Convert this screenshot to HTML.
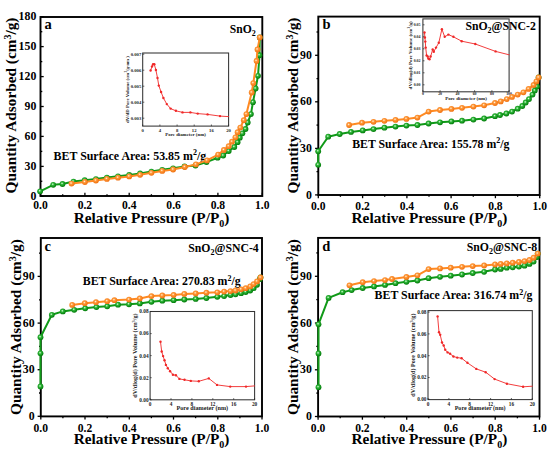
<!DOCTYPE html><html><head><meta charset="utf-8"><style>html,body{margin:0;padding:0;background:#fff;}svg{display:block;}svg text{font-family:"Liberation Serif",serif;font-weight:bold;}</style></head><body><svg width="550" height="453" viewBox="0 0 550 453" font-weight="bold"><defs><radialGradient id="gg" cx="0.42" cy="0.4" r="0.6"><stop offset="0" stop-color="#e8ffe8"/><stop offset="0.35" stop-color="#30b83a"/><stop offset="1" stop-color="#007a08"/></radialGradient><radialGradient id="go" cx="0.42" cy="0.4" r="0.6"><stop offset="0" stop-color="#fff4e6"/><stop offset="0.35" stop-color="#ff9a3a"/><stop offset="1" stop-color="#f07010"/></radialGradient></defs><rect width="550" height="453" fill="#fff"/><rect x="40.5" y="17.0" width="221.8" height="179.0" fill="none" stroke="#000" stroke-width="1.9"/><line x1="40.5" y1="196.0" x2="40.5" y2="192.8" stroke="#000" stroke-width="1.3"/><text x="40.5" y="208.7" font-size="11.6" text-anchor="middle" >0.0</text><line x1="62.7" y1="196.0" x2="62.7" y2="194.2" stroke="#000" stroke-width="1.3"/><line x1="84.9" y1="196.0" x2="84.9" y2="192.8" stroke="#000" stroke-width="1.3"/><text x="84.9" y="208.7" font-size="11.6" text-anchor="middle" >0.2</text><line x1="107.0" y1="196.0" x2="107.0" y2="194.2" stroke="#000" stroke-width="1.3"/><line x1="129.2" y1="196.0" x2="129.2" y2="192.8" stroke="#000" stroke-width="1.3"/><text x="129.2" y="208.7" font-size="11.6" text-anchor="middle" >0.4</text><line x1="151.4" y1="196.0" x2="151.4" y2="194.2" stroke="#000" stroke-width="1.3"/><line x1="173.6" y1="196.0" x2="173.6" y2="192.8" stroke="#000" stroke-width="1.3"/><text x="173.6" y="208.7" font-size="11.6" text-anchor="middle" >0.6</text><line x1="195.8" y1="196.0" x2="195.8" y2="194.2" stroke="#000" stroke-width="1.3"/><line x1="217.9" y1="196.0" x2="217.9" y2="192.8" stroke="#000" stroke-width="1.3"/><text x="217.9" y="208.7" font-size="11.6" text-anchor="middle" >0.8</text><line x1="240.1" y1="196.0" x2="240.1" y2="194.2" stroke="#000" stroke-width="1.3"/><line x1="262.3" y1="196.0" x2="262.3" y2="192.8" stroke="#000" stroke-width="1.3"/><text x="262.3" y="208.7" font-size="11.6" text-anchor="middle" >1.0</text><line x1="40.5" y1="196.3" x2="43.7" y2="196.3" stroke="#000" stroke-width="1.3"/><text x="36.3" y="199.9" font-size="11.8" text-anchor="end" >0</text><line x1="40.5" y1="166.4" x2="43.7" y2="166.4" stroke="#000" stroke-width="1.3"/><text x="36.3" y="170.0" font-size="11.8" text-anchor="end" >30</text><line x1="40.5" y1="136.4" x2="43.7" y2="136.4" stroke="#000" stroke-width="1.3"/><text x="36.3" y="140.0" font-size="11.8" text-anchor="end" >60</text><line x1="40.5" y1="106.5" x2="43.7" y2="106.5" stroke="#000" stroke-width="1.3"/><text x="36.3" y="110.1" font-size="11.8" text-anchor="end" >90</text><line x1="40.5" y1="76.6" x2="43.7" y2="76.6" stroke="#000" stroke-width="1.3"/><text x="36.3" y="80.2" font-size="11.8" text-anchor="end" >120</text><line x1="40.5" y1="46.6" x2="43.7" y2="46.6" stroke="#000" stroke-width="1.3"/><text x="36.3" y="50.2" font-size="11.8" text-anchor="end" >150</text><line x1="40.5" y1="16.7" x2="43.7" y2="16.7" stroke="#000" stroke-width="1.3"/><text x="36.3" y="20.3" font-size="11.8" text-anchor="end" >180</text><line x1="40.5" y1="181.3" x2="42.3" y2="181.3" stroke="#000" stroke-width="1.3"/><line x1="40.5" y1="151.4" x2="42.3" y2="151.4" stroke="#000" stroke-width="1.3"/><line x1="40.5" y1="121.5" x2="42.3" y2="121.5" stroke="#000" stroke-width="1.3"/><line x1="40.5" y1="91.5" x2="42.3" y2="91.5" stroke="#000" stroke-width="1.3"/><line x1="40.5" y1="61.6" x2="42.3" y2="61.6" stroke="#000" stroke-width="1.3"/><line x1="40.5" y1="31.7" x2="42.3" y2="31.7" stroke="#000" stroke-width="1.3"/><text x="151.6" y="223.4" font-size="15.3" text-anchor="middle">Relative Pressure (P/P<tspan dy="3.5" font-size="10">0</tspan><tspan dy="-3.5">)</tspan></text><text transform="translate(16.2,105.5) rotate(-90)" x="0" y="0" font-size="15.3" text-anchor="middle">Quantity Adsorbed (cm<tspan dy="-5" font-size="10">3</tspan><tspan dy="5">/g)</tspan></text><text x="44.6" y="29.2" font-size="14.5" text-anchor="start" >a</text><text x="229.8" y="32.7" font-size="11.6">SnO<tspan dy="2.8" font-size="8">2</tspan></text><text x="53.6" y="159.5" font-size="11.9">BET Surface Area: 53.85 m<tspan dy="-4.3" font-size="8">2</tspan><tspan dy="4.3">/g</tspan></text><rect x="142.7" y="53.0" width="85.9" height="73.1" fill="#fff" stroke="#333" stroke-width="1.05"/><line x1="142.7" y1="126.1" x2="142.7" y2="124.5" stroke="#222" stroke-width="0.7"/><text x="142.7" y="131.6" font-size="4.7" text-anchor="middle" fill="#222">0</text><line x1="159.9" y1="126.1" x2="159.9" y2="124.5" stroke="#222" stroke-width="0.7"/><text x="159.9" y="131.6" font-size="4.7" text-anchor="middle" fill="#222">4</text><line x1="177.1" y1="126.1" x2="177.1" y2="124.5" stroke="#222" stroke-width="0.7"/><text x="177.1" y="131.6" font-size="4.7" text-anchor="middle" fill="#222">8</text><line x1="194.2" y1="126.1" x2="194.2" y2="124.5" stroke="#222" stroke-width="0.7"/><text x="194.2" y="131.6" font-size="4.7" text-anchor="middle" fill="#222">12</text><line x1="211.4" y1="126.1" x2="211.4" y2="124.5" stroke="#222" stroke-width="0.7"/><text x="211.4" y="131.6" font-size="4.7" text-anchor="middle" fill="#222">16</text><line x1="228.6" y1="126.1" x2="228.6" y2="124.5" stroke="#222" stroke-width="0.7"/><text x="228.6" y="131.6" font-size="4.7" text-anchor="middle" fill="#222">20</text><line x1="142.7" y1="118.2" x2="144.29999999999998" y2="118.2" stroke="#222" stroke-width="0.7"/><text x="141.3" y="119.8" font-size="4.7" text-anchor="end" fill="#222">0.003</text><line x1="142.7" y1="102.2" x2="144.29999999999998" y2="102.2" stroke="#222" stroke-width="0.7"/><text x="141.3" y="103.8" font-size="4.7" text-anchor="end" fill="#222">0.004</text><line x1="142.7" y1="86.2" x2="144.29999999999998" y2="86.2" stroke="#222" stroke-width="0.7"/><text x="141.3" y="87.8" font-size="4.7" text-anchor="end" fill="#222">0.005</text><line x1="142.7" y1="70.2" x2="144.29999999999998" y2="70.2" stroke="#222" stroke-width="0.7"/><text x="141.3" y="71.8" font-size="4.7" text-anchor="end" fill="#222">0.006</text><line x1="142.7" y1="54.2" x2="144.29999999999998" y2="54.2" stroke="#222" stroke-width="0.7"/><text x="141.3" y="55.8" font-size="4.7" text-anchor="end" fill="#222">0.007</text><polyline points="150.6,70.5 152.0,66.5 153.1,64.3 154.3,64.3 155.9,70.0 157.5,78.0 158.8,85.6 161.1,92.0 163.4,98.0 166.8,104.1 170.6,108.6 175.9,110.8 182.5,112.4 190.4,112.4 197.7,113.6 207.6,114.4 220.0,116.1 228.6,116.6" fill="none" stroke="#f02828" stroke-width="0.9" stroke-linejoin="round" stroke-linecap="round"/><circle cx="150.6" cy="70.5" r="1.2" fill="#f02828"/><circle cx="152.0" cy="66.5" r="1.2" fill="#f02828"/><circle cx="153.1" cy="64.3" r="1.2" fill="#f02828"/><circle cx="154.3" cy="64.3" r="1.2" fill="#f02828"/><circle cx="155.9" cy="70.0" r="1.2" fill="#f02828"/><circle cx="157.5" cy="78.0" r="1.2" fill="#f02828"/><circle cx="158.8" cy="85.6" r="1.2" fill="#f02828"/><circle cx="161.1" cy="92.0" r="1.2" fill="#f02828"/><circle cx="163.4" cy="98.0" r="1.2" fill="#f02828"/><circle cx="166.8" cy="104.1" r="1.2" fill="#f02828"/><circle cx="170.6" cy="108.6" r="1.2" fill="#f02828"/><circle cx="175.9" cy="110.8" r="1.2" fill="#f02828"/><circle cx="182.5" cy="112.4" r="1.2" fill="#f02828"/><circle cx="190.4" cy="112.4" r="1.2" fill="#f02828"/><circle cx="197.7" cy="113.6" r="1.2" fill="#f02828"/><circle cx="207.6" cy="114.4" r="1.2" fill="#f02828"/><circle cx="220.0" cy="116.1" r="1.2" fill="#f02828"/><text x="185.6" y="135.5" font-size="4.85" text-anchor="middle" fill="#222">Pore diameter (nm)</text><text transform="translate(128.5,89.5) rotate(-90)" font-size="4.85" text-anchor="middle" fill="#222">dV/dD Pore Volume (cm<tspan dy="-1.5" font-size="3.3">3</tspan><tspan dy="1.5">/g·nm )</tspan></text><polyline points="40.1,191.3 53.2,184.8 62.5,184.0 73.5,181.6 84.7,180.2 95.9,179.1 106.9,177.6 118.0,176.3 129.2,175.0 140.1,173.4 151.4,171.6 162.2,169.8 173.1,168.3 184.5,166.5 195.5,165.5 206.5,162.1 217.6,157.7 223.2,155.5 228.7,151.0 234.3,147.0 237.6,142.2 239.8,137.7 242.4,133.3 245.5,129.0 247.7,122.5 250.9,114.1 253.0,102.2 255.6,88.5 258.0,75.8 259.5,55.2 259.8,37.4" fill="none" stroke="#109a18" stroke-width="2.0" stroke-linejoin="round" stroke-linecap="round"/><circle cx="40.1" cy="191.3" r="2.9" fill="url(#gg)"/><circle cx="53.2" cy="184.8" r="2.9" fill="url(#gg)"/><circle cx="62.5" cy="184.0" r="2.9" fill="url(#gg)"/><circle cx="73.5" cy="181.6" r="2.9" fill="url(#gg)"/><circle cx="84.7" cy="180.2" r="2.9" fill="url(#gg)"/><circle cx="95.9" cy="179.1" r="2.9" fill="url(#gg)"/><circle cx="106.9" cy="177.6" r="2.9" fill="url(#gg)"/><circle cx="118.0" cy="176.3" r="2.9" fill="url(#gg)"/><circle cx="129.2" cy="175.0" r="2.9" fill="url(#gg)"/><circle cx="140.1" cy="173.4" r="2.9" fill="url(#gg)"/><circle cx="151.4" cy="171.6" r="2.9" fill="url(#gg)"/><circle cx="162.2" cy="169.8" r="2.9" fill="url(#gg)"/><circle cx="173.1" cy="168.3" r="2.9" fill="url(#gg)"/><circle cx="184.5" cy="166.5" r="2.9" fill="url(#gg)"/><circle cx="195.5" cy="165.5" r="2.9" fill="url(#gg)"/><circle cx="206.5" cy="162.1" r="2.9" fill="url(#gg)"/><circle cx="217.6" cy="157.7" r="2.9" fill="url(#gg)"/><circle cx="223.2" cy="155.5" r="2.9" fill="url(#gg)"/><circle cx="228.7" cy="151.0" r="2.9" fill="url(#gg)"/><circle cx="234.3" cy="147.0" r="2.9" fill="url(#gg)"/><circle cx="237.6" cy="142.2" r="2.9" fill="url(#gg)"/><circle cx="239.8" cy="137.7" r="2.9" fill="url(#gg)"/><circle cx="242.4" cy="133.3" r="2.9" fill="url(#gg)"/><circle cx="245.5" cy="129.0" r="2.9" fill="url(#gg)"/><circle cx="247.7" cy="122.5" r="2.9" fill="url(#gg)"/><circle cx="250.9" cy="114.1" r="2.9" fill="url(#gg)"/><circle cx="253.0" cy="102.2" r="2.9" fill="url(#gg)"/><circle cx="255.6" cy="88.5" r="2.9" fill="url(#gg)"/><circle cx="258.0" cy="75.8" r="2.9" fill="url(#gg)"/><circle cx="259.5" cy="55.2" r="2.9" fill="url(#gg)"/><circle cx="259.8" cy="37.4" r="2.9" fill="url(#gg)"/><polyline points="71.5,183.6 84.9,182.0 95.9,180.5 106.9,178.9 118.0,177.7 129.2,176.4 140.1,174.8 151.4,172.8 162.2,170.9 173.1,169.5 184.8,167.0 195.9,164.4 207.0,160.4 218.1,154.6 223.9,150.0 228.7,146.2 232.0,141.7 235.4,137.3 237.6,132.2 240.3,127.6 243.8,120.2 246.4,114.1 251.7,92.5 253.3,83.1 256.5,61.0 257.5,49.5 259.8,37.4" fill="none" stroke="#ff8a22" stroke-width="2.0" stroke-linejoin="round" stroke-linecap="round"/><circle cx="71.5" cy="183.6" r="2.9" fill="url(#go)"/><circle cx="84.9" cy="182.0" r="2.9" fill="url(#go)"/><circle cx="95.9" cy="180.5" r="2.9" fill="url(#go)"/><circle cx="106.9" cy="178.9" r="2.9" fill="url(#go)"/><circle cx="118.0" cy="177.7" r="2.9" fill="url(#go)"/><circle cx="129.2" cy="176.4" r="2.9" fill="url(#go)"/><circle cx="140.1" cy="174.8" r="2.9" fill="url(#go)"/><circle cx="151.4" cy="172.8" r="2.9" fill="url(#go)"/><circle cx="162.2" cy="170.9" r="2.9" fill="url(#go)"/><circle cx="173.1" cy="169.5" r="2.9" fill="url(#go)"/><circle cx="184.8" cy="167.0" r="2.9" fill="url(#go)"/><circle cx="195.9" cy="164.4" r="2.9" fill="url(#go)"/><circle cx="207.0" cy="160.4" r="2.9" fill="url(#go)"/><circle cx="218.1" cy="154.6" r="2.9" fill="url(#go)"/><circle cx="223.9" cy="150.0" r="2.9" fill="url(#go)"/><circle cx="228.7" cy="146.2" r="2.9" fill="url(#go)"/><circle cx="232.0" cy="141.7" r="2.9" fill="url(#go)"/><circle cx="235.4" cy="137.3" r="2.9" fill="url(#go)"/><circle cx="237.6" cy="132.2" r="2.9" fill="url(#go)"/><circle cx="240.3" cy="127.6" r="2.9" fill="url(#go)"/><circle cx="243.8" cy="120.2" r="2.9" fill="url(#go)"/><circle cx="246.4" cy="114.1" r="2.9" fill="url(#go)"/><circle cx="251.7" cy="92.5" r="2.9" fill="url(#go)"/><circle cx="253.3" cy="83.1" r="2.9" fill="url(#go)"/><circle cx="256.5" cy="61.0" r="2.9" fill="url(#go)"/><circle cx="257.5" cy="49.5" r="2.9" fill="url(#go)"/><circle cx="259.8" cy="37.4" r="2.9" fill="url(#go)"/><rect x="318.3" y="16.6" width="221.40000000000003" height="178.4" fill="none" stroke="#000" stroke-width="1.9"/><line x1="318.3" y1="195.0" x2="318.3" y2="198.2" stroke="#000" stroke-width="1.3"/><text x="318.3" y="209.8" font-size="11.6" text-anchor="middle" >0.0</text><line x1="340.4" y1="195.0" x2="340.4" y2="196.8" stroke="#000" stroke-width="1.3"/><line x1="362.6" y1="195.0" x2="362.6" y2="198.2" stroke="#000" stroke-width="1.3"/><text x="362.6" y="209.8" font-size="11.6" text-anchor="middle" >0.2</text><line x1="384.7" y1="195.0" x2="384.7" y2="196.8" stroke="#000" stroke-width="1.3"/><line x1="406.9" y1="195.0" x2="406.9" y2="198.2" stroke="#000" stroke-width="1.3"/><text x="406.9" y="209.8" font-size="11.6" text-anchor="middle" >0.4</text><line x1="429.0" y1="195.0" x2="429.0" y2="196.8" stroke="#000" stroke-width="1.3"/><line x1="451.1" y1="195.0" x2="451.1" y2="198.2" stroke="#000" stroke-width="1.3"/><text x="451.1" y="209.8" font-size="11.6" text-anchor="middle" >0.6</text><line x1="473.3" y1="195.0" x2="473.3" y2="196.8" stroke="#000" stroke-width="1.3"/><line x1="495.4" y1="195.0" x2="495.4" y2="198.2" stroke="#000" stroke-width="1.3"/><text x="495.4" y="209.8" font-size="11.6" text-anchor="middle" >0.8</text><line x1="517.6" y1="195.0" x2="517.6" y2="196.8" stroke="#000" stroke-width="1.3"/><line x1="539.7" y1="195.0" x2="539.7" y2="198.2" stroke="#000" stroke-width="1.3"/><text x="539.7" y="209.8" font-size="11.6" text-anchor="middle" >1.0</text><line x1="318.3" y1="194.9" x2="315.1" y2="194.9" stroke="#000" stroke-width="1.3"/><text x="311.9" y="198.5" font-size="11.8" text-anchor="end" >0</text><line x1="318.3" y1="148.4" x2="315.1" y2="148.4" stroke="#000" stroke-width="1.3"/><text x="311.9" y="152.0" font-size="11.8" text-anchor="end" >30</text><line x1="318.3" y1="101.8" x2="315.1" y2="101.8" stroke="#000" stroke-width="1.3"/><text x="311.9" y="105.4" font-size="11.8" text-anchor="end" >60</text><line x1="318.3" y1="55.3" x2="315.1" y2="55.3" stroke="#000" stroke-width="1.3"/><text x="311.9" y="58.9" font-size="11.8" text-anchor="end" >90</text><line x1="318.3" y1="171.6" x2="316.5" y2="171.6" stroke="#000" stroke-width="1.3"/><line x1="318.3" y1="125.1" x2="316.5" y2="125.1" stroke="#000" stroke-width="1.3"/><line x1="318.3" y1="78.6" x2="316.5" y2="78.6" stroke="#000" stroke-width="1.3"/><line x1="318.3" y1="32.0" x2="316.5" y2="32.0" stroke="#000" stroke-width="1.3"/><text x="429.4" y="223.4" font-size="15.3" text-anchor="middle">Relative Pressure (P/P<tspan dy="3.5" font-size="10">0</tspan><tspan dy="-3.5">)</tspan></text><text transform="translate(297.9,105.5) rotate(-90)" x="0" y="0" font-size="15.3" text-anchor="middle">Quantity Adsorbed (cm<tspan dy="-5" font-size="10">3</tspan><tspan dy="5">/g)</tspan></text><text x="322.4" y="29.2" font-size="14.5" text-anchor="start" >b</text><rect x="422.9" y="18.9" width="86.20000000000005" height="72.9" fill="#fff" stroke="#333" stroke-width="1.05"/><line x1="422.9" y1="91.8" x2="422.9" y2="90.2" stroke="#222" stroke-width="0.7"/><text x="422.9" y="95.3" font-size="3.9" text-anchor="middle" fill="#222">0</text><line x1="440.1" y1="91.8" x2="440.1" y2="90.2" stroke="#222" stroke-width="0.7"/><text x="440.1" y="95.3" font-size="3.9" text-anchor="middle" fill="#222">20</text><line x1="457.4" y1="91.8" x2="457.4" y2="90.2" stroke="#222" stroke-width="0.7"/><text x="457.4" y="95.3" font-size="3.9" text-anchor="middle" fill="#222">40</text><line x1="474.6" y1="91.8" x2="474.6" y2="90.2" stroke="#222" stroke-width="0.7"/><text x="474.6" y="95.3" font-size="3.9" text-anchor="middle" fill="#222">60</text><line x1="491.9" y1="91.8" x2="491.9" y2="90.2" stroke="#222" stroke-width="0.7"/><text x="491.9" y="95.3" font-size="3.9" text-anchor="middle" fill="#222">80</text><line x1="509.1" y1="91.8" x2="509.1" y2="90.2" stroke="#222" stroke-width="0.7"/><text x="509.1" y="95.3" font-size="3.9" text-anchor="middle" fill="#222">100</text><line x1="422.9" y1="84.8" x2="424.5" y2="84.8" stroke="#222" stroke-width="0.7"/><text x="420.5" y="86.2" font-size="3.9" text-anchor="end" fill="#222">0.00</text><line x1="422.9" y1="72.8" x2="424.5" y2="72.8" stroke="#222" stroke-width="0.7"/><text x="420.5" y="74.2" font-size="3.9" text-anchor="end" fill="#222">0.01</text><line x1="422.9" y1="60.8" x2="424.5" y2="60.8" stroke="#222" stroke-width="0.7"/><text x="420.5" y="62.2" font-size="3.9" text-anchor="end" fill="#222">0.02</text><line x1="422.9" y1="48.8" x2="424.5" y2="48.8" stroke="#222" stroke-width="0.7"/><text x="420.5" y="50.2" font-size="3.9" text-anchor="end" fill="#222">0.03</text><line x1="422.9" y1="36.8" x2="424.5" y2="36.8" stroke="#222" stroke-width="0.7"/><text x="420.5" y="38.2" font-size="3.9" text-anchor="end" fill="#222">0.04</text><line x1="422.9" y1="24.8" x2="424.5" y2="24.8" stroke="#222" stroke-width="0.7"/><text x="420.5" y="26.2" font-size="3.9" text-anchor="end" fill="#222">0.05</text><polyline points="424.5,32.5 424.9,37.5 425.3,41.6 425.7,47.6 426.6,55.4 427.7,56.5 428.3,58.6 429.5,59.2 430.6,56.5 432.7,49.5 433.8,51.7 436.0,47.6 438.8,42.8 441.9,29.2 444.7,36.8 448.4,34.6 453.4,36.8 461.7,41.2 475.3,44.0 495.6,51.4 509.1,54.8" fill="none" stroke="#f02828" stroke-width="0.9" stroke-linejoin="round" stroke-linecap="round"/><circle cx="424.5" cy="32.5" r="1.2" fill="#f02828"/><circle cx="424.9" cy="37.5" r="1.2" fill="#f02828"/><circle cx="425.3" cy="41.6" r="1.2" fill="#f02828"/><circle cx="425.7" cy="47.6" r="1.2" fill="#f02828"/><circle cx="426.6" cy="55.4" r="1.2" fill="#f02828"/><circle cx="427.7" cy="56.5" r="1.2" fill="#f02828"/><circle cx="428.3" cy="58.6" r="1.2" fill="#f02828"/><circle cx="429.5" cy="59.2" r="1.2" fill="#f02828"/><circle cx="430.6" cy="56.5" r="1.2" fill="#f02828"/><circle cx="432.7" cy="49.5" r="1.2" fill="#f02828"/><circle cx="433.8" cy="51.7" r="1.2" fill="#f02828"/><circle cx="436.0" cy="47.6" r="1.2" fill="#f02828"/><circle cx="438.8" cy="42.8" r="1.2" fill="#f02828"/><circle cx="441.9" cy="29.2" r="1.2" fill="#f02828"/><circle cx="444.7" cy="36.8" r="1.2" fill="#f02828"/><circle cx="448.4" cy="34.6" r="1.2" fill="#f02828"/><circle cx="453.4" cy="36.8" r="1.2" fill="#f02828"/><circle cx="461.7" cy="41.2" r="1.2" fill="#f02828"/><circle cx="475.3" cy="44.0" r="1.2" fill="#f02828"/><circle cx="495.6" cy="51.4" r="1.2" fill="#f02828"/><text x="466.0" y="99.8" font-size="5.0" text-anchor="middle" fill="#222">Pore diameter (nm)</text><text transform="translate(411.6,55.3) rotate(-90)" font-size="5.0" text-anchor="middle" fill="#222">dV/dlog(d) Pore Volume (cm<tspan dy="-1.5" font-size="3.5">3</tspan><tspan dy="1.5">/g)</tspan></text><text x="465.4" y="30.1" font-size="11.75">SnO<tspan dy="2.8" font-size="8">2</tspan><tspan dy="-2.8">@SNC-2</tspan></text><text x="352.2" y="147.6" font-size="11.8">BET Surface Area: 155.78 m<tspan dy="-4.3" font-size="8">2</tspan><tspan dy="4.3">/g</tspan></text><polyline points="318.2,164.8 318.2,151.3 328.2,136.7 339.7,134.0 351.0,131.9 362.7,130.4 373.5,129.1 384.4,127.7 395.5,126.6 406.4,125.6 417.4,125.0 428.6,123.5 440.0,122.3 451.4,121.4 462.0,120.7 473.4,119.6 484.1,118.5 495.0,116.2 500.0,115.0 506.4,113.5 512.0,111.6 517.7,108.7 522.3,106.0 525.7,102.5 529.0,99.1 532.5,94.6 534.8,90.5 537.0,86.6 538.6,77.5" fill="none" stroke="#109a18" stroke-width="2.0" stroke-linejoin="round" stroke-linecap="round"/><circle cx="318.2" cy="164.8" r="2.9" fill="url(#gg)"/><circle cx="318.2" cy="151.3" r="2.9" fill="url(#gg)"/><circle cx="328.2" cy="136.7" r="2.9" fill="url(#gg)"/><circle cx="339.7" cy="134.0" r="2.9" fill="url(#gg)"/><circle cx="351.0" cy="131.9" r="2.9" fill="url(#gg)"/><circle cx="362.7" cy="130.4" r="2.9" fill="url(#gg)"/><circle cx="373.5" cy="129.1" r="2.9" fill="url(#gg)"/><circle cx="384.4" cy="127.7" r="2.9" fill="url(#gg)"/><circle cx="395.5" cy="126.6" r="2.9" fill="url(#gg)"/><circle cx="406.4" cy="125.6" r="2.9" fill="url(#gg)"/><circle cx="417.4" cy="125.0" r="2.9" fill="url(#gg)"/><circle cx="428.6" cy="123.5" r="2.9" fill="url(#gg)"/><circle cx="440.0" cy="122.3" r="2.9" fill="url(#gg)"/><circle cx="451.4" cy="121.4" r="2.9" fill="url(#gg)"/><circle cx="462.0" cy="120.7" r="2.9" fill="url(#gg)"/><circle cx="473.4" cy="119.6" r="2.9" fill="url(#gg)"/><circle cx="484.1" cy="118.5" r="2.9" fill="url(#gg)"/><circle cx="495.0" cy="116.2" r="2.9" fill="url(#gg)"/><circle cx="500.0" cy="115.0" r="2.9" fill="url(#gg)"/><circle cx="506.4" cy="113.5" r="2.9" fill="url(#gg)"/><circle cx="512.0" cy="111.6" r="2.9" fill="url(#gg)"/><circle cx="517.7" cy="108.7" r="2.9" fill="url(#gg)"/><circle cx="522.3" cy="106.0" r="2.9" fill="url(#gg)"/><circle cx="525.7" cy="102.5" r="2.9" fill="url(#gg)"/><circle cx="529.0" cy="99.1" r="2.9" fill="url(#gg)"/><circle cx="532.5" cy="94.6" r="2.9" fill="url(#gg)"/><circle cx="534.8" cy="90.5" r="2.9" fill="url(#gg)"/><circle cx="537.0" cy="86.6" r="2.9" fill="url(#gg)"/><circle cx="538.6" cy="77.5" r="2.9" fill="url(#gg)"/><polyline points="349.1,125.0 362.0,122.7 373.5,121.8 384.4,120.8 395.5,119.9 406.4,118.9 417.4,117.6 428.6,111.6 440.0,110.0 451.4,108.9 462.0,107.8 473.4,106.6 484.1,105.3 495.0,103.0 500.7,101.4 506.8,99.1 512.0,96.9 517.7,94.6 523.4,92.3 528.6,88.9 533.6,85.0 536.4,81.4 538.6,77.5" fill="none" stroke="#ff8a22" stroke-width="2.0" stroke-linejoin="round" stroke-linecap="round"/><circle cx="349.1" cy="125.0" r="2.9" fill="url(#go)"/><circle cx="362.0" cy="122.7" r="2.9" fill="url(#go)"/><circle cx="373.5" cy="121.8" r="2.9" fill="url(#go)"/><circle cx="384.4" cy="120.8" r="2.9" fill="url(#go)"/><circle cx="395.5" cy="119.9" r="2.9" fill="url(#go)"/><circle cx="406.4" cy="118.9" r="2.9" fill="url(#go)"/><circle cx="417.4" cy="117.6" r="2.9" fill="url(#go)"/><circle cx="428.6" cy="111.6" r="2.9" fill="url(#go)"/><circle cx="440.0" cy="110.0" r="2.9" fill="url(#go)"/><circle cx="451.4" cy="108.9" r="2.9" fill="url(#go)"/><circle cx="462.0" cy="107.8" r="2.9" fill="url(#go)"/><circle cx="473.4" cy="106.6" r="2.9" fill="url(#go)"/><circle cx="484.1" cy="105.3" r="2.9" fill="url(#go)"/><circle cx="495.0" cy="103.0" r="2.9" fill="url(#go)"/><circle cx="500.7" cy="101.4" r="2.9" fill="url(#go)"/><circle cx="506.8" cy="99.1" r="2.9" fill="url(#go)"/><circle cx="512.0" cy="96.9" r="2.9" fill="url(#go)"/><circle cx="517.7" cy="94.6" r="2.9" fill="url(#go)"/><circle cx="523.4" cy="92.3" r="2.9" fill="url(#go)"/><circle cx="528.6" cy="88.9" r="2.9" fill="url(#go)"/><circle cx="533.6" cy="85.0" r="2.9" fill="url(#go)"/><circle cx="536.4" cy="81.4" r="2.9" fill="url(#go)"/><circle cx="538.6" cy="77.5" r="2.9" fill="url(#go)"/><rect x="40.8" y="238.0" width="221.2" height="178.39999999999998" fill="none" stroke="#000" stroke-width="1.9"/><line x1="40.8" y1="416.4" x2="40.8" y2="419.6" stroke="#000" stroke-width="1.3"/><text x="40.8" y="432.0" font-size="11.6" text-anchor="middle" >0.0</text><line x1="62.9" y1="416.4" x2="62.9" y2="418.2" stroke="#000" stroke-width="1.3"/><line x1="85.0" y1="416.4" x2="85.0" y2="419.6" stroke="#000" stroke-width="1.3"/><text x="85.0" y="432.0" font-size="11.6" text-anchor="middle" >0.2</text><line x1="107.2" y1="416.4" x2="107.2" y2="418.2" stroke="#000" stroke-width="1.3"/><line x1="129.3" y1="416.4" x2="129.3" y2="419.6" stroke="#000" stroke-width="1.3"/><text x="129.3" y="432.0" font-size="11.6" text-anchor="middle" >0.4</text><line x1="151.4" y1="416.4" x2="151.4" y2="418.2" stroke="#000" stroke-width="1.3"/><line x1="173.5" y1="416.4" x2="173.5" y2="419.6" stroke="#000" stroke-width="1.3"/><text x="173.5" y="432.0" font-size="11.6" text-anchor="middle" >0.6</text><line x1="195.6" y1="416.4" x2="195.6" y2="418.2" stroke="#000" stroke-width="1.3"/><line x1="217.8" y1="416.4" x2="217.8" y2="419.6" stroke="#000" stroke-width="1.3"/><text x="217.8" y="432.0" font-size="11.6" text-anchor="middle" >0.8</text><line x1="239.9" y1="416.4" x2="239.9" y2="418.2" stroke="#000" stroke-width="1.3"/><line x1="262.0" y1="416.4" x2="262.0" y2="419.6" stroke="#000" stroke-width="1.3"/><text x="262.0" y="432.0" font-size="11.6" text-anchor="middle" >1.0</text><line x1="40.8" y1="416.3" x2="37.6" y2="416.3" stroke="#000" stroke-width="1.3"/><text x="34.6" y="419.9" font-size="11.8" text-anchor="end" >0</text><line x1="40.8" y1="369.7" x2="37.6" y2="369.7" stroke="#000" stroke-width="1.3"/><text x="34.6" y="373.3" font-size="11.8" text-anchor="end" >30</text><line x1="40.8" y1="323.1" x2="37.6" y2="323.1" stroke="#000" stroke-width="1.3"/><text x="34.6" y="326.7" font-size="11.8" text-anchor="end" >60</text><line x1="40.8" y1="276.4" x2="37.6" y2="276.4" stroke="#000" stroke-width="1.3"/><text x="34.6" y="280.0" font-size="11.8" text-anchor="end" >90</text><line x1="40.8" y1="393.0" x2="39.0" y2="393.0" stroke="#000" stroke-width="1.3"/><line x1="40.8" y1="346.4" x2="39.0" y2="346.4" stroke="#000" stroke-width="1.3"/><line x1="40.8" y1="299.8" x2="39.0" y2="299.8" stroke="#000" stroke-width="1.3"/><line x1="40.8" y1="253.1" x2="39.0" y2="253.1" stroke="#000" stroke-width="1.3"/><text x="151.6" y="444.3" font-size="15.3" text-anchor="middle">Relative Pressure (P/P<tspan dy="3.5" font-size="10">0</tspan><tspan dy="-3.5">)</tspan></text><text transform="translate(20.6,327.1) rotate(-90)" x="0" y="0" font-size="15.3" text-anchor="middle">Quantity Adsorbed (cm<tspan dy="-5" font-size="10">3</tspan><tspan dy="5">/g)</tspan></text><text x="44.6" y="250.6" font-size="14.5" text-anchor="start" >c</text><text x="188.3" y="252.2" font-size="11.75">SnO<tspan dy="2.8" font-size="8">2</tspan><tspan dy="-2.8">@SNC-4</tspan></text><text x="82.8" y="284.8" font-size="11.85">BET Surface Area: 270.83 m<tspan dy="-4.3" font-size="8">2</tspan><tspan dy="4.3">/g</tspan></text><polyline points="40.5,386.5 40.5,353.3 40.5,337.2 51.8,314.8 62.8,311.4 74.2,309.8 85.2,308.3 96.4,307.1 107.2,306.3 118.0,304.7 129.0,304.3 139.8,303.4 151.4,301.8 162.3,300.7 173.6,300.2 184.3,299.5 195.7,298.9 206.4,298.0 217.3,296.8 224.1,296.1 230.5,295.0 235.5,294.3 241.1,293.2 245.7,292.0 250.2,290.5 253.6,288.2 257.0,284.8 260.0,279.0 260.5,277.5" fill="none" stroke="#109a18" stroke-width="2.0" stroke-linejoin="round" stroke-linecap="round"/><circle cx="40.5" cy="386.5" r="2.9" fill="url(#gg)"/><circle cx="40.5" cy="353.3" r="2.9" fill="url(#gg)"/><circle cx="40.5" cy="337.2" r="2.9" fill="url(#gg)"/><circle cx="51.8" cy="314.8" r="2.9" fill="url(#gg)"/><circle cx="62.8" cy="311.4" r="2.9" fill="url(#gg)"/><circle cx="74.2" cy="309.8" r="2.9" fill="url(#gg)"/><circle cx="85.2" cy="308.3" r="2.9" fill="url(#gg)"/><circle cx="96.4" cy="307.1" r="2.9" fill="url(#gg)"/><circle cx="107.2" cy="306.3" r="2.9" fill="url(#gg)"/><circle cx="118.0" cy="304.7" r="2.9" fill="url(#gg)"/><circle cx="129.0" cy="304.3" r="2.9" fill="url(#gg)"/><circle cx="139.8" cy="303.4" r="2.9" fill="url(#gg)"/><circle cx="151.4" cy="301.8" r="2.9" fill="url(#gg)"/><circle cx="162.3" cy="300.7" r="2.9" fill="url(#gg)"/><circle cx="173.6" cy="300.2" r="2.9" fill="url(#gg)"/><circle cx="184.3" cy="299.5" r="2.9" fill="url(#gg)"/><circle cx="195.7" cy="298.9" r="2.9" fill="url(#gg)"/><circle cx="206.4" cy="298.0" r="2.9" fill="url(#gg)"/><circle cx="217.3" cy="296.8" r="2.9" fill="url(#gg)"/><circle cx="224.1" cy="296.1" r="2.9" fill="url(#gg)"/><circle cx="230.5" cy="295.0" r="2.9" fill="url(#gg)"/><circle cx="235.5" cy="294.3" r="2.9" fill="url(#gg)"/><circle cx="241.1" cy="293.2" r="2.9" fill="url(#gg)"/><circle cx="245.7" cy="292.0" r="2.9" fill="url(#gg)"/><circle cx="250.2" cy="290.5" r="2.9" fill="url(#gg)"/><circle cx="253.6" cy="288.2" r="2.9" fill="url(#gg)"/><circle cx="257.0" cy="284.8" r="2.9" fill="url(#gg)"/><circle cx="260.0" cy="279.0" r="2.9" fill="url(#gg)"/><circle cx="260.5" cy="277.5" r="2.9" fill="url(#gg)"/><polyline points="72.2,304.9 84.8,303.2 96.0,302.2 107.2,301.2 114.4,300.2 129.0,299.6 139.8,298.5 151.4,296.1 162.3,295.5 173.6,295.0 184.3,293.9 195.7,293.4 206.4,292.7 217.3,292.3 224.1,291.6 230.5,291.1 235.5,290.5 241.1,289.3 245.7,288.2 250.2,286.4 253.6,284.1 257.0,281.4 260.5,277.5" fill="none" stroke="#ff8a22" stroke-width="2.0" stroke-linejoin="round" stroke-linecap="round"/><circle cx="72.2" cy="304.9" r="2.9" fill="url(#go)"/><circle cx="84.8" cy="303.2" r="2.9" fill="url(#go)"/><circle cx="96.0" cy="302.2" r="2.9" fill="url(#go)"/><circle cx="107.2" cy="301.2" r="2.9" fill="url(#go)"/><circle cx="114.4" cy="300.2" r="2.9" fill="url(#go)"/><circle cx="129.0" cy="299.6" r="2.9" fill="url(#go)"/><circle cx="139.8" cy="298.5" r="2.9" fill="url(#go)"/><circle cx="151.4" cy="296.1" r="2.9" fill="url(#go)"/><circle cx="162.3" cy="295.5" r="2.9" fill="url(#go)"/><circle cx="173.6" cy="295.0" r="2.9" fill="url(#go)"/><circle cx="184.3" cy="293.9" r="2.9" fill="url(#go)"/><circle cx="195.7" cy="293.4" r="2.9" fill="url(#go)"/><circle cx="206.4" cy="292.7" r="2.9" fill="url(#go)"/><circle cx="217.3" cy="292.3" r="2.9" fill="url(#go)"/><circle cx="224.1" cy="291.6" r="2.9" fill="url(#go)"/><circle cx="230.5" cy="291.1" r="2.9" fill="url(#go)"/><circle cx="235.5" cy="290.5" r="2.9" fill="url(#go)"/><circle cx="241.1" cy="289.3" r="2.9" fill="url(#go)"/><circle cx="245.7" cy="288.2" r="2.9" fill="url(#go)"/><circle cx="250.2" cy="286.4" r="2.9" fill="url(#go)"/><circle cx="253.6" cy="284.1" r="2.9" fill="url(#go)"/><circle cx="257.0" cy="281.4" r="2.9" fill="url(#go)"/><circle cx="260.5" cy="277.5" r="2.9" fill="url(#go)"/><rect x="150.1" y="311.5" width="104.5" height="88.30000000000001" fill="#fff" stroke="#333" stroke-width="1.05"/><line x1="150.1" y1="399.8" x2="150.1" y2="398.2" stroke="#222" stroke-width="0.7"/><text x="150.1" y="406.2" font-size="5.3" text-anchor="middle" fill="#222">0</text><line x1="171.0" y1="399.8" x2="171.0" y2="398.2" stroke="#222" stroke-width="0.7"/><text x="171.0" y="406.2" font-size="5.3" text-anchor="middle" fill="#222">4</text><line x1="191.9" y1="399.8" x2="191.9" y2="398.2" stroke="#222" stroke-width="0.7"/><text x="191.9" y="406.2" font-size="5.3" text-anchor="middle" fill="#222">8</text><line x1="212.8" y1="399.8" x2="212.8" y2="398.2" stroke="#222" stroke-width="0.7"/><text x="212.8" y="406.2" font-size="5.3" text-anchor="middle" fill="#222">12</text><line x1="233.7" y1="399.8" x2="233.7" y2="398.2" stroke="#222" stroke-width="0.7"/><text x="233.7" y="406.2" font-size="5.3" text-anchor="middle" fill="#222">16</text><line x1="254.6" y1="399.8" x2="254.6" y2="398.2" stroke="#222" stroke-width="0.7"/><text x="254.6" y="406.2" font-size="5.3" text-anchor="middle" fill="#222">20</text><line x1="150.1" y1="399.8" x2="151.7" y2="399.8" stroke="#222" stroke-width="0.7"/><text x="148.6" y="401.7" font-size="5.3" text-anchor="end" fill="#222">0.00</text><line x1="150.1" y1="377.7" x2="151.7" y2="377.7" stroke="#222" stroke-width="0.7"/><text x="148.6" y="379.6" font-size="5.3" text-anchor="end" fill="#222">0.02</text><line x1="150.1" y1="355.6" x2="151.7" y2="355.6" stroke="#222" stroke-width="0.7"/><text x="148.6" y="357.5" font-size="5.3" text-anchor="end" fill="#222">0.04</text><line x1="150.1" y1="333.6" x2="151.7" y2="333.6" stroke="#222" stroke-width="0.7"/><text x="148.6" y="335.4" font-size="5.3" text-anchor="end" fill="#222">0.06</text><line x1="150.1" y1="311.5" x2="151.7" y2="311.5" stroke="#222" stroke-width="0.7"/><text x="148.6" y="313.4" font-size="5.3" text-anchor="end" fill="#222">0.08</text><polyline points="160.5,341.7 161.7,351.5 163.1,356.1 164.5,360.3 165.9,364.9 167.8,368.2 170.1,371.2 172.9,374.7 175.9,375.2 179.4,378.9 184.5,379.8 190.8,380.9 198.8,381.3 208.8,378.4 217.0,384.9 230.2,386.6 246.0,386.6 254.6,385.9" fill="none" stroke="#f02828" stroke-width="0.9" stroke-linejoin="round" stroke-linecap="round"/><circle cx="160.5" cy="341.7" r="1.2" fill="#f02828"/><circle cx="161.7" cy="351.5" r="1.2" fill="#f02828"/><circle cx="163.1" cy="356.1" r="1.2" fill="#f02828"/><circle cx="164.5" cy="360.3" r="1.2" fill="#f02828"/><circle cx="165.9" cy="364.9" r="1.2" fill="#f02828"/><circle cx="167.8" cy="368.2" r="1.2" fill="#f02828"/><circle cx="170.1" cy="371.2" r="1.2" fill="#f02828"/><circle cx="172.9" cy="374.7" r="1.2" fill="#f02828"/><circle cx="175.9" cy="375.2" r="1.2" fill="#f02828"/><circle cx="179.4" cy="378.9" r="1.2" fill="#f02828"/><circle cx="184.5" cy="379.8" r="1.2" fill="#f02828"/><circle cx="190.8" cy="380.9" r="1.2" fill="#f02828"/><circle cx="198.8" cy="381.3" r="1.2" fill="#f02828"/><circle cx="208.8" cy="378.4" r="1.2" fill="#f02828"/><circle cx="217.0" cy="384.9" r="1.2" fill="#f02828"/><circle cx="230.2" cy="386.6" r="1.2" fill="#f02828"/><circle cx="246.0" cy="386.6" r="1.2" fill="#f02828"/><text x="202.3" y="410.3" font-size="6.2" text-anchor="middle" fill="#222">Pore diameter (nm)</text><text transform="translate(136.7,355.6) rotate(-90)" font-size="6.2" text-anchor="middle" fill="#222">dV/dlog(d) Pore Volume (cm<tspan dy="-2" font-size="4.3">3</tspan><tspan dy="2">/g)</tspan></text><rect x="318.1" y="237.9" width="221.39999999999998" height="178.6" fill="none" stroke="#000" stroke-width="1.9"/><line x1="318.1" y1="416.5" x2="318.1" y2="419.7" stroke="#000" stroke-width="1.3"/><text x="318.1" y="432.0" font-size="11.6" text-anchor="middle" >0.0</text><line x1="340.2" y1="416.5" x2="340.2" y2="418.3" stroke="#000" stroke-width="1.3"/><line x1="362.4" y1="416.5" x2="362.4" y2="419.7" stroke="#000" stroke-width="1.3"/><text x="362.4" y="432.0" font-size="11.6" text-anchor="middle" >0.2</text><line x1="384.5" y1="416.5" x2="384.5" y2="418.3" stroke="#000" stroke-width="1.3"/><line x1="406.7" y1="416.5" x2="406.7" y2="419.7" stroke="#000" stroke-width="1.3"/><text x="406.7" y="432.0" font-size="11.6" text-anchor="middle" >0.4</text><line x1="428.8" y1="416.5" x2="428.8" y2="418.3" stroke="#000" stroke-width="1.3"/><line x1="450.9" y1="416.5" x2="450.9" y2="419.7" stroke="#000" stroke-width="1.3"/><text x="450.9" y="432.0" font-size="11.6" text-anchor="middle" >0.6</text><line x1="473.1" y1="416.5" x2="473.1" y2="418.3" stroke="#000" stroke-width="1.3"/><line x1="495.2" y1="416.5" x2="495.2" y2="419.7" stroke="#000" stroke-width="1.3"/><text x="495.2" y="432.0" font-size="11.6" text-anchor="middle" >0.8</text><line x1="517.4" y1="416.5" x2="517.4" y2="418.3" stroke="#000" stroke-width="1.3"/><line x1="539.5" y1="416.5" x2="539.5" y2="419.7" stroke="#000" stroke-width="1.3"/><text x="539.5" y="432.0" font-size="11.6" text-anchor="middle" >1.0</text><line x1="318.1" y1="416.5" x2="314.9" y2="416.5" stroke="#000" stroke-width="1.3"/><text x="311.9" y="420.1" font-size="11.8" text-anchor="end" >0</text><line x1="318.1" y1="369.8" x2="314.9" y2="369.8" stroke="#000" stroke-width="1.3"/><text x="311.9" y="373.4" font-size="11.8" text-anchor="end" >30</text><line x1="318.1" y1="323.0" x2="314.9" y2="323.0" stroke="#000" stroke-width="1.3"/><text x="311.9" y="326.6" font-size="11.8" text-anchor="end" >60</text><line x1="318.1" y1="276.3" x2="314.9" y2="276.3" stroke="#000" stroke-width="1.3"/><text x="311.9" y="279.9" font-size="11.8" text-anchor="end" >90</text><line x1="318.1" y1="393.1" x2="316.3" y2="393.1" stroke="#000" stroke-width="1.3"/><line x1="318.1" y1="346.4" x2="316.3" y2="346.4" stroke="#000" stroke-width="1.3"/><line x1="318.1" y1="299.6" x2="316.3" y2="299.6" stroke="#000" stroke-width="1.3"/><line x1="318.1" y1="252.9" x2="316.3" y2="252.9" stroke="#000" stroke-width="1.3"/><text x="429.4" y="444.3" font-size="15.3" text-anchor="middle">Relative Pressure (P/P<tspan dy="3.5" font-size="10">0</tspan><tspan dy="-3.5">)</tspan></text><text transform="translate(298.1,327.1) rotate(-90)" x="0" y="0" font-size="15.3" text-anchor="middle">Quantity Adsorbed (cm<tspan dy="-5" font-size="10">3</tspan><tspan dy="5">/g)</tspan></text><text x="322.2" y="251.0" font-size="14.5" text-anchor="start" >d</text><text x="466.8" y="250.7" font-size="11.75">SnO<tspan dy="2.8" font-size="8">2</tspan><tspan dy="-2.8">@SNC-8</tspan></text><text x="374.6" y="299.1" font-size="11.85">BET Surface Area: 316.74 m<tspan dy="-4.3" font-size="8">2</tspan><tspan dy="4.3">/g</tspan></text><polyline points="318.5,387.2 318.5,353.4 318.5,324.3 328.6,297.9 342.6,292.2 351.6,290.1 362.7,288.0 374.0,286.4 385.0,284.9 395.5,283.2 406.4,281.8 417.4,280.5 428.6,278.2 440.0,276.8 450.7,275.7 462.0,274.5 472.7,273.0 484.1,271.8 495.0,269.5 500.7,268.9 506.8,267.7 512.7,267.3 518.9,266.6 524.5,265.7 529.5,263.9 533.6,261.6 537.0,257.0 537.7,253.6" fill="none" stroke="#109a18" stroke-width="2.0" stroke-linejoin="round" stroke-linecap="round"/><circle cx="318.5" cy="387.2" r="2.9" fill="url(#gg)"/><circle cx="318.5" cy="353.4" r="2.9" fill="url(#gg)"/><circle cx="318.5" cy="324.3" r="2.9" fill="url(#gg)"/><circle cx="328.6" cy="297.9" r="2.9" fill="url(#gg)"/><circle cx="342.6" cy="292.2" r="2.9" fill="url(#gg)"/><circle cx="351.6" cy="290.1" r="2.9" fill="url(#gg)"/><circle cx="362.7" cy="288.0" r="2.9" fill="url(#gg)"/><circle cx="374.0" cy="286.4" r="2.9" fill="url(#gg)"/><circle cx="385.0" cy="284.9" r="2.9" fill="url(#gg)"/><circle cx="395.5" cy="283.2" r="2.9" fill="url(#gg)"/><circle cx="406.4" cy="281.8" r="2.9" fill="url(#gg)"/><circle cx="417.4" cy="280.5" r="2.9" fill="url(#gg)"/><circle cx="428.6" cy="278.2" r="2.9" fill="url(#gg)"/><circle cx="440.0" cy="276.8" r="2.9" fill="url(#gg)"/><circle cx="450.7" cy="275.7" r="2.9" fill="url(#gg)"/><circle cx="462.0" cy="274.5" r="2.9" fill="url(#gg)"/><circle cx="472.7" cy="273.0" r="2.9" fill="url(#gg)"/><circle cx="484.1" cy="271.8" r="2.9" fill="url(#gg)"/><circle cx="495.0" cy="269.5" r="2.9" fill="url(#gg)"/><circle cx="500.7" cy="268.9" r="2.9" fill="url(#gg)"/><circle cx="506.8" cy="267.7" r="2.9" fill="url(#gg)"/><circle cx="512.7" cy="267.3" r="2.9" fill="url(#gg)"/><circle cx="518.9" cy="266.6" r="2.9" fill="url(#gg)"/><circle cx="524.5" cy="265.7" r="2.9" fill="url(#gg)"/><circle cx="529.5" cy="263.9" r="2.9" fill="url(#gg)"/><circle cx="533.6" cy="261.6" r="2.9" fill="url(#gg)"/><circle cx="537.0" cy="257.0" r="2.9" fill="url(#gg)"/><circle cx="537.7" cy="253.6" r="2.9" fill="url(#gg)"/><polyline points="349.5,285.3 362.7,282.2 374.0,281.1 385.0,280.1 392.0,279.0 406.4,277.0 417.4,275.3 428.6,269.1 440.0,268.4 450.7,267.7 462.0,266.8 472.7,266.1 484.1,265.5 495.0,264.5 500.7,263.9 506.8,263.4 512.7,262.7 518.9,262.0 524.5,261.1 529.5,260.0 533.6,257.7 537.7,253.6" fill="none" stroke="#ff8a22" stroke-width="2.0" stroke-linejoin="round" stroke-linecap="round"/><circle cx="349.5" cy="285.3" r="2.9" fill="url(#go)"/><circle cx="362.7" cy="282.2" r="2.9" fill="url(#go)"/><circle cx="374.0" cy="281.1" r="2.9" fill="url(#go)"/><circle cx="385.0" cy="280.1" r="2.9" fill="url(#go)"/><circle cx="392.0" cy="279.0" r="2.9" fill="url(#go)"/><circle cx="406.4" cy="277.0" r="2.9" fill="url(#go)"/><circle cx="417.4" cy="275.3" r="2.9" fill="url(#go)"/><circle cx="428.6" cy="269.1" r="2.9" fill="url(#go)"/><circle cx="440.0" cy="268.4" r="2.9" fill="url(#go)"/><circle cx="450.7" cy="267.7" r="2.9" fill="url(#go)"/><circle cx="462.0" cy="266.8" r="2.9" fill="url(#go)"/><circle cx="472.7" cy="266.1" r="2.9" fill="url(#go)"/><circle cx="484.1" cy="265.5" r="2.9" fill="url(#go)"/><circle cx="495.0" cy="264.5" r="2.9" fill="url(#go)"/><circle cx="500.7" cy="263.9" r="2.9" fill="url(#go)"/><circle cx="506.8" cy="263.4" r="2.9" fill="url(#go)"/><circle cx="512.7" cy="262.7" r="2.9" fill="url(#go)"/><circle cx="518.9" cy="262.0" r="2.9" fill="url(#go)"/><circle cx="524.5" cy="261.1" r="2.9" fill="url(#go)"/><circle cx="529.5" cy="260.0" r="2.9" fill="url(#go)"/><circle cx="533.6" cy="257.7" r="2.9" fill="url(#go)"/><circle cx="537.7" cy="253.6" r="2.9" fill="url(#go)"/><rect x="428.0" y="310.6" width="104.29999999999995" height="89.0" fill="#fff" stroke="#333" stroke-width="1.05"/><line x1="428.0" y1="399.6" x2="428.0" y2="398.0" stroke="#222" stroke-width="0.7"/><text x="428.0" y="405.9" font-size="5.3" text-anchor="middle" fill="#222">0</text><line x1="448.9" y1="399.6" x2="448.9" y2="398.0" stroke="#222" stroke-width="0.7"/><text x="448.9" y="405.9" font-size="5.3" text-anchor="middle" fill="#222">4</text><line x1="469.7" y1="399.6" x2="469.7" y2="398.0" stroke="#222" stroke-width="0.7"/><text x="469.7" y="405.9" font-size="5.3" text-anchor="middle" fill="#222">8</text><line x1="490.6" y1="399.6" x2="490.6" y2="398.0" stroke="#222" stroke-width="0.7"/><text x="490.6" y="405.9" font-size="5.3" text-anchor="middle" fill="#222">12</text><line x1="511.4" y1="399.6" x2="511.4" y2="398.0" stroke="#222" stroke-width="0.7"/><text x="511.4" y="405.9" font-size="5.3" text-anchor="middle" fill="#222">16</text><line x1="532.3" y1="399.6" x2="532.3" y2="398.0" stroke="#222" stroke-width="0.7"/><text x="532.3" y="405.9" font-size="5.3" text-anchor="middle" fill="#222">20</text><line x1="428.0" y1="399.3" x2="429.6" y2="399.3" stroke="#222" stroke-width="0.7"/><text x="426.5" y="401.2" font-size="5.3" text-anchor="end" fill="#222">0.00</text><line x1="428.0" y1="377.5" x2="429.6" y2="377.5" stroke="#222" stroke-width="0.7"/><text x="426.5" y="379.4" font-size="5.3" text-anchor="end" fill="#222">0.02</text><line x1="428.0" y1="355.7" x2="429.6" y2="355.7" stroke="#222" stroke-width="0.7"/><text x="426.5" y="357.6" font-size="5.3" text-anchor="end" fill="#222">0.04</text><line x1="428.0" y1="333.9" x2="429.6" y2="333.9" stroke="#222" stroke-width="0.7"/><text x="426.5" y="335.8" font-size="5.3" text-anchor="end" fill="#222">0.06</text><line x1="428.0" y1="312.1" x2="429.6" y2="312.1" stroke="#222" stroke-width="0.7"/><text x="426.5" y="314.0" font-size="5.3" text-anchor="end" fill="#222">0.08</text><polyline points="437.6,316.4 439.0,332.3 440.2,334.8 442.0,342.5 443.7,345.5 445.2,349.8 447.6,352.4 450.1,353.7 453.4,356.5 457.2,357.6 461.6,358.2 467.4,362.8 476.3,368.9 485.7,372.2 494.6,379.1 506.9,383.7 523.1,386.8 532.3,386.2" fill="none" stroke="#f02828" stroke-width="0.9" stroke-linejoin="round" stroke-linecap="round"/><circle cx="437.6" cy="316.4" r="1.2" fill="#f02828"/><circle cx="439.0" cy="332.3" r="1.2" fill="#f02828"/><circle cx="440.2" cy="334.8" r="1.2" fill="#f02828"/><circle cx="442.0" cy="342.5" r="1.2" fill="#f02828"/><circle cx="443.7" cy="345.5" r="1.2" fill="#f02828"/><circle cx="445.2" cy="349.8" r="1.2" fill="#f02828"/><circle cx="447.6" cy="352.4" r="1.2" fill="#f02828"/><circle cx="450.1" cy="353.7" r="1.2" fill="#f02828"/><circle cx="453.4" cy="356.5" r="1.2" fill="#f02828"/><circle cx="457.2" cy="357.6" r="1.2" fill="#f02828"/><circle cx="461.6" cy="358.2" r="1.2" fill="#f02828"/><circle cx="467.4" cy="362.8" r="1.2" fill="#f02828"/><circle cx="476.3" cy="368.9" r="1.2" fill="#f02828"/><circle cx="485.7" cy="372.2" r="1.2" fill="#f02828"/><circle cx="494.6" cy="379.1" r="1.2" fill="#f02828"/><circle cx="506.9" cy="383.7" r="1.2" fill="#f02828"/><circle cx="523.1" cy="386.8" r="1.2" fill="#f02828"/><text x="480.1" y="410.4" font-size="6.1" text-anchor="middle" fill="#222">Pore diameter (nm)</text><text transform="translate(414.6,355.1) rotate(-90)" font-size="6.1" text-anchor="middle" fill="#222">dV/dlog(d) Pore Volume (cm<tspan dy="-2" font-size="4.3">3</tspan><tspan dy="2">/g)</tspan></text></svg></body></html>
